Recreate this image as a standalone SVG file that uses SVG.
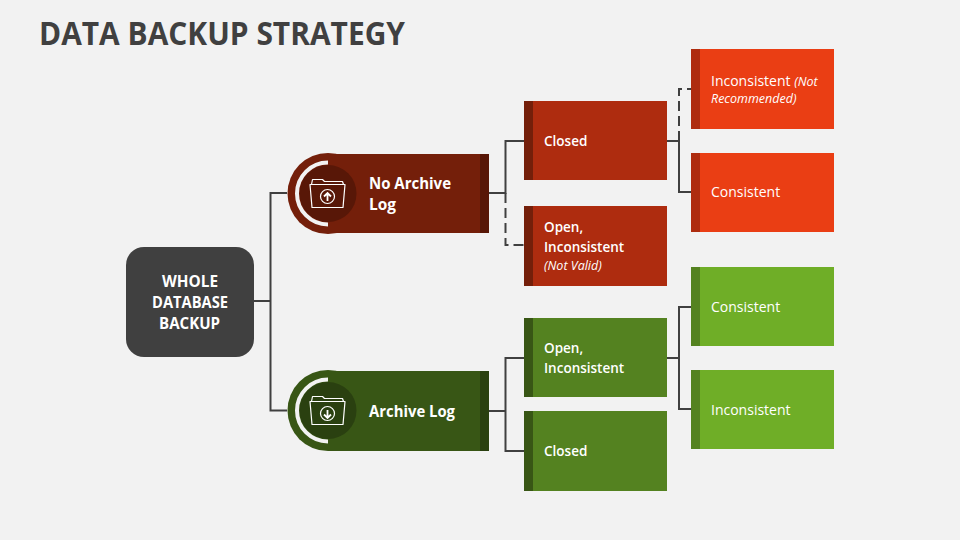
<svg xmlns="http://www.w3.org/2000/svg" width="960" height="540" viewBox="0 0 960 540">
<style>
text{font-family:"Open Sans","Noto Sans","Liberation Sans",sans-serif;fill:#fff;font-size:13.500px;font-weight:600}
.c{fill:none;stroke:#404040;stroke-width:2}
.d{stroke-dasharray:10 5}
.i{fill:none;stroke:#fff;stroke-width:1.200;stroke-linejoin:round}
.ar{fill:none;stroke:#f2f2f2;stroke-width:4}
.big{font-size:16px;font-weight:700}
.it{font-style:italic;font-size:12.500px;font-weight:500}
.r{font-weight:400;font-size:14px}
</style>
<defs>
<g id="folder" class="i">
<path d="M-16,-9.500 L-15,-14.500 H-5 L-3,-12.500 H15 L16,-9.500"/>
<path d="M-17.500,-9.500 H17.500 L15.500,13.500 H-15.500 Z"/>
<circle cx="0" cy="2.500" r="7"/>
</g>
</defs>
<rect width="960" height="540" fill="#f2f2f2"/>
<text x="39" y="45" textLength="366" lengthAdjust="spacingAndGlyphs" style="font-size:32px;font-weight:700;fill:#404040">DATA BACKUP STRATEGY</text>
<g id="connectors">
<path class="c" d="M254,301H270.500M287,193H270.500V410.500H287"/>
<path class="c" d="M489,193H505.500V141H524"/>
<path class="c d" d="M505.500,193V245H524"/>
<path class="c" d="M489,411H505.500V358H524M505.500,411V451H524"/>
<path class="c" d="M667,141H679V192H691"/>
<path class="c d" d="M679,141V89H691"/>
<path class="c" d="M667,358H679V307H691M679,358V409H691"/>
</g>
<g id="whole">
<rect x="126" y="247" width="128" height="110" rx="18" fill="#404040"/>
<text class="big" x="162" y="286.500" textLength="56" lengthAdjust="spacingAndGlyphs">WHOLE</text>
<text class="big" x="152" y="307.500" textLength="76" lengthAdjust="spacingAndGlyphs">DATABASE</text>
<text class="big" x="159" y="329" textLength="61" lengthAdjust="spacingAndGlyphs">BACKUP</text>
</g>
<g id="no-archive">
<circle cx="328" cy="193.500" r="40.500" fill="#741f0a"/>
<rect x="328" y="154" width="161" height="79" fill="#741f0a"/>
<rect x="480" y="154" width="9" height="79" fill="#581707"/>
<circle cx="328" cy="193.500" r="28.500" fill="#581707"/>
<path class="ar" d="M328,162.500A31,31 0 0 0 328,224.500"/>
<use href="#folder" x="327.500" y="194"/>
<path d="M327.500,201V193M324,196.500L327.500,193L331,196.500" fill="none" stroke="#fff" stroke-width="1.800"/>
<text class="big" x="369" y="189" textLength="82" lengthAdjust="spacingAndGlyphs">No Archive</text>
<text class="big" x="369" y="210" textLength="27" lengthAdjust="spacingAndGlyphs">Log</text>
</g>
<g id="archive">
<circle cx="328" cy="410.500" r="40.500" fill="#385615"/>
<rect x="328" y="371" width="161" height="80" fill="#385615"/>
<rect x="480" y="371" width="9" height="80" fill="#2a4010"/>
<circle cx="328" cy="410.500" r="28.500" fill="#2a4010"/>
<path class="ar" d="M328,379.500A31,31 0 0 0 328,441.500"/>
<use href="#folder" x="327.500" y="411"/>
<path d="M327.500,410V418M324,414.500L327.500,418L331,414.500" fill="none" stroke="#fff" stroke-width="1.800"/>
<text class="big" x="369" y="417" textLength="86" lengthAdjust="spacingAndGlyphs">Archive Log</text>
</g>
<g id="closed-red">
<rect x="524" y="101" width="143" height="79" fill="#ae2c0f"/>
<rect x="524" y="101" width="9" height="79" fill="#741f0a"/>
<text x="544" y="146">Closed</text>
</g>
<g id="open-red">
<rect x="524" y="206" width="143" height="80" fill="#ae2c0f"/>
<rect x="524" y="206" width="9" height="80" fill="#741f0a"/>
<text x="544" y="232">Open,</text>
<text x="544" y="251.500">Inconsistent</text>
<text class="it" x="544" y="270">(Not Valid)</text>
</g>
<g id="open-green">
<rect x="524" y="318" width="143" height="79" fill="#548220"/>
<rect x="524" y="318" width="9" height="79" fill="#385615"/>
<text x="544" y="353">Open,</text>
<text x="544" y="372.500">Inconsistent</text>
</g>
<g id="closed-green">
<rect x="524" y="411" width="143" height="80" fill="#548220"/>
<rect x="524" y="411" width="9" height="80" fill="#385615"/>
<text x="544" y="456">Closed</text>
</g>
<g id="inconsistent-red">
<rect x="691" y="49" width="143" height="80" fill="#ea3e14"/>
<rect x="691" y="49" width="9" height="80" fill="#ae2c0f"/>
<text class="r" x="711" y="86">Inconsistent <tspan class="it">(Not</tspan></text>
<text class="it" x="711" y="103">Recommended)</text>
</g>
<g id="consistent-red">
<rect x="691" y="153" width="143" height="79" fill="#ea3e14"/>
<rect x="691" y="153" width="9" height="79" fill="#ae2c0f"/>
<text class="r" x="711" y="197">Consistent</text>
</g>
<g id="consistent-green">
<rect x="691" y="267" width="143" height="79" fill="#6fae27"/>
<rect x="691" y="267" width="9" height="79" fill="#548220"/>
<text class="r" x="711" y="312">Consistent</text>
</g>
<g id="inconsistent-green">
<rect x="691" y="370" width="143" height="79" fill="#6fae27"/>
<rect x="691" y="370" width="9" height="79" fill="#548220"/>
<text class="r" x="711" y="415">Inconsistent</text>
</g>
</svg>
